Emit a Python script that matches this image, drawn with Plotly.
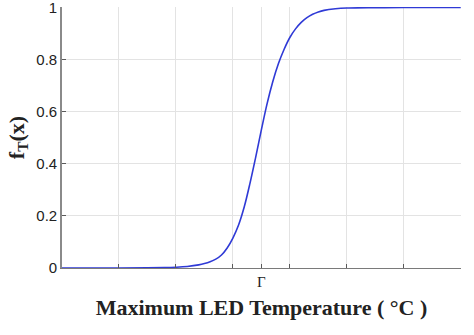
import plotly.graph_objects as go

# Sampled values of the smoothed threshold function f_T(x)
x_vals = [0.0, 1.0, 1.5, 1.8, 2.0, 2.2, 2.4, 2.5, 2.6, 2.7, 2.8, 2.9, 3.0,
          3.1, 3.2, 3.3, 3.4, 3.5, 3.6, 3.7, 3.8, 3.9, 4.0, 4.1, 4.2, 4.3,
          4.4, 4.5, 4.6, 4.8, 5.0, 5.5, 6.0, 7.0]
f_vals = [0.0, 0.0, 0.0005, 0.0015, 0.003, 0.006, 0.012, 0.017, 0.024, 0.034, 0.05, 0.077, 0.115,
          0.165, 0.235, 0.325, 0.425, 0.53, 0.63, 0.715, 0.785, 0.84, 0.885, 0.918, 0.943, 0.961,
          0.974, 0.983, 0.989, 0.995, 0.998, 0.9995, 1.0, 1.0]

x_ticks = [0, 1, 2, 3, 3.5, 4, 5, 6, 7]
x_tick_text = ["", "", "", "", "Γ", "", "", "", ""]
y_ticks = [0, 0.2, 0.4, 0.6, 0.8, 1.0]
y_tick_text = ["0", "0.2", "0.4", "0.6", "0.8", "1"]

fig = go.Figure()
fig.add_trace(go.Scatter(
    x=x_vals, y=f_vals, mode="lines",
    line=dict(color="#2f3ad6", width=1.6, shape="spline", smoothing=1.0),
    showlegend=False, hoverinfo="skip",
))

serif = "Liberation Serif, Times New Roman, serif"
sans = "Liberation Sans, Arial, sans-serif"

fig.update_layout(
    width=474, height=335,
    margin=dict(l=62, r=13, t=7, b=67),
    paper_bgcolor="white", plot_bgcolor="white",
    xaxis=dict(
        range=[0, 7.005], tickmode="array", tickvals=x_ticks, ticktext=x_tick_text,
        showgrid=True, gridcolor="#e3e3e3", gridwidth=1,
        showline=True, linecolor="#7a7a7a", linewidth=1.2,
        ticks="inside", ticklen=4, tickcolor="#5a5a5a",
        tickfont=dict(family=serif, size=15, color="#222"),
        zeroline=False, ticklabeloverflow="allow", automargin=False,
        title=dict(text="<b>Maximum LED Temperature ( °C )</b>",
                   font=dict(family=serif, size=22, color="#222"), standoff=10),
    ),
    yaxis=dict(
        range=[0, 1.002], tickmode="array", tickvals=y_ticks, ticktext=y_tick_text,
        showgrid=True, gridcolor="#e3e3e3", gridwidth=1,
        showline=True, linecolor="#8a8a8a", linewidth=1.6,
        ticks="inside", ticklen=4, tickcolor="#5a5a5a",
        tickfont=dict(family=sans, size=15, color="#222"),
        zeroline=False, ticklabeloverflow="allow", automargin=False,
        title=dict(text="<b>f<sub>T</sub>(x)</b>",
                   font=dict(family=serif, size=22, color="#222"), standoff=6),
    ),
)

fig.write_html("out.html")
